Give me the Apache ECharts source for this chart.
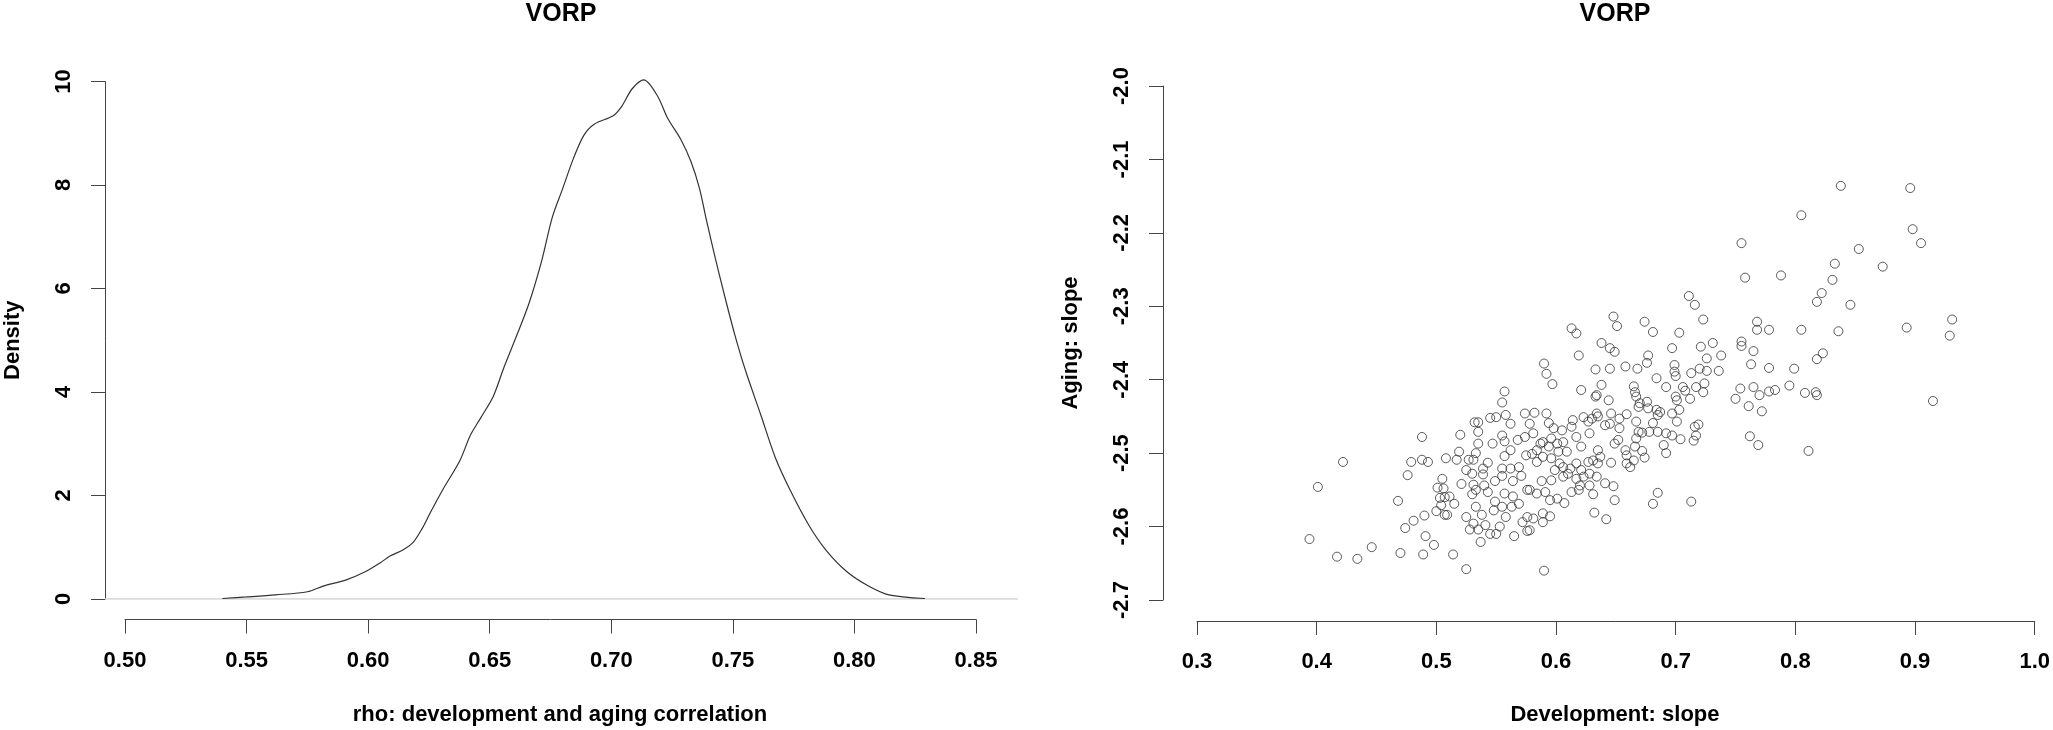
<!DOCTYPE html>
<html>
	<head>
		<meta charset="utf-8" />
		<title>VORP</title>
		<style type="text/css">
			body { margin: 0; background: #fff; }
		</style>
	</head>
	<body>
		<div id="chart" style="width:2053px;height:730px;"></div>
	</body>
</html>
<script src="https://cdn.jsdelivr.net/npm/echarts/dist/echarts.min.js"></script>
<script>
	// density of rho
	var rhoX = [0.540, 0.550, 0.562, 0.575, 0.5815, 0.591, 0.599, 0.605, 0.609, 0.6144,
		0.6186, 0.6222, 0.6256, 0.6308, 0.6377, 0.642, 0.6463, 0.6515, 0.6558, 0.6611,
		0.6662, 0.6714, 0.6757, 0.680, 0.6844, 0.6887, 0.6931, 0.7008, 0.7043, 0.7086,
		0.7134, 0.719, 0.7233, 0.7285, 0.7328, 0.7363, 0.7389, 0.7423, 0.7466, 0.7509,
		0.7553, 0.7614, 0.7674, 0.7734, 0.7812, 0.7882, 0.7968, 0.8054, 0.8141, 0.829];
	var densityY = [0.01, 0.04, 0.08, 0.14, 0.25, 0.37, 0.53, 0.70, 0.83, 0.95,
		1.10, 1.36, 1.67, 2.12, 2.67, 3.16, 3.50, 3.92, 4.47, 5.09,
		5.72, 6.54, 7.37, 7.93, 8.51, 8.96, 9.18, 9.34, 9.52, 9.86,
		10.03, 9.72, 9.28, 8.89, 8.45, 7.93, 7.37, 6.68, 5.86, 5.09,
		4.40, 3.57, 2.74, 2.12, 1.43, 0.95, 0.53, 0.26, 0.08, 0.01];
	// abline(h=0) spans the whole plot region
	var zeroLineX = [0.4918, 0.8672];

	// development slope vs aging slope (right panel)
	var devSlope = [
		0.394, 0.401, 0.422, 0.417, 0.434, 0.446, 0.468, 0.470, 0.476, 0.479,
		0.488, 0.488, 0.493, 0.474, 0.481, 0.490, 0.491, 0.498, 0.489, 0.514,
		0.525, 0.500, 0.505, 0.501, 0.506, 0.503, 0.507, 0.511, 0.504, 0.515,
		0.507, 0.509, 0.508, 0.520, 0.519, 0.517, 0.521, 0.525, 0.528, 0.531,
		0.537, 0.535, 0.532, 0.535, 0.535, 0.535, 0.533, 0.527, 0.531, 0.525,
		0.530, 0.531, 0.530, 0.533, 0.539, 0.543, 0.539, 0.540, 0.543, 0.533,
		0.538, 0.541, 0.545, 0.550, 0.547, 0.545, 0.550, 0.558, 0.555, 0.557,
		0.562, 0.574, 0.555, 0.557, 0.562, 0.568, 0.557, 0.555, 0.549, 0.555,
		0.562, 0.564, 0.569, 0.571, 0.557, 0.564, 0.549, 0.555, 0.563, 0.569,
		0.558, 0.553, 0.565, 0.572, 0.576, 0.576, 0.548, 0.576, 0.575, 0.574,
		0.590, 0.578, 0.581, 0.589, 0.595, 0.589, 0.578, 0.584, 0.591, 0.588,
		0.595, 0.601, 0.607, 0.596, 0.606, 0.610, 0.613, 0.619, 0.620, 0.617,
		0.612, 0.603, 0.596, 0.589, 0.584, 0.580, 0.581, 0.578, 0.582, 0.592,
		0.594, 0.598, 0.605, 0.596, 0.589, 0.594, 0.601, 0.606, 0.602, 0.609,
		0.613, 0.614, 0.617, 0.621, 0.623, 0.628, 0.627, 0.630, 0.635, 0.634,
		0.635, 0.627, 0.631, 0.635, 0.628, 0.634, 0.628, 0.631, 0.641, 0.648,
		0.649, 0.632, 0.642, 0.646, 0.649, 0.652, 0.658, 0.659, 0.662, 0.659,
		0.665, 0.641, 0.645, 0.646, 0.653, 0.659, 0.653, 0.634, 0.633, 0.638,
		0.644, 0.621, 0.633, 0.645, 0.658, 0.668, 0.676, 0.677, 0.619, 0.590,
		0.592, 0.597, 0.613, 0.617, 0.638, 0.645, 0.649, 0.648, 0.651, 0.674,
		0.681, 0.665, 0.666, 0.667, 0.670, 0.669, 0.676, 0.677, 0.684, 0.685,
		0.687, 0.681, 0.667, 0.669, 0.672, 0.678, 0.685, 0.692, 0.697, 0.704,
		0.715, 0.717, 0.716, 0.719, 0.667, 0.666, 0.672, 0.674, 0.690, 0.692,
		0.685, 0.681, 0.713, 0.684, 0.692, 0.699, 0.699, 0.700, 0.697, 0.703,
		0.706, 0.708, 0.700, 0.701, 0.697, 0.701, 0.703, 0.712, 0.713, 0.711,
		0.716, 0.723, 0.721, 0.726, 0.720, 0.726, 0.724, 0.717, 0.723, 0.731,
		0.738, 0.736, 0.750, 0.754, 0.755, 0.755, 0.758, 0.587, 0.584, 0.599,
		0.606, 0.617, 0.621, 0.623, 0.637,
		0.838, 0.896, 0.805, 0.898, 0.905, 0.755, 0.853, 0.833, 0.873, 0.788,
		0.831, 0.822, 0.818, 0.846, 0.768, 0.768, 0.778, 0.805, 0.836, 0.893,
		0.931, 0.929, 0.765, 0.763, 0.778, 0.799, 0.823, 0.818, 0.765, 0.770,
		0.778, 0.783, 0.795, 0.808, 0.817, 0.818, 0.761, 0.772, 0.915, 0.762,
		0.769, 0.811];
	var agingSlope = [
		-2.617, -2.546, -2.512, -2.641, -2.644, -2.628, -2.565, -2.636, -2.530, -2.512,
		-2.478, -2.509, -2.512, -2.602, -2.592, -2.585, -2.613, -2.625, -2.638, -2.638,
		-2.658, -2.579, -2.535, -2.547, -2.548, -2.561, -2.560, -2.559, -2.571, -2.569,
		-2.584, -2.584, -2.507, -2.475, -2.498, -2.509, -2.542, -2.587, -2.604, -2.596,
		-2.621, -2.604, -2.458, -2.458, -2.471, -2.487, -2.500, -2.509, -2.509, -2.523,
		-2.528, -2.543, -2.556, -2.550, -2.521, -2.513, -2.529, -2.544, -2.553, -2.573,
		-2.584, -2.598, -2.610, -2.610, -2.487, -2.452, -2.451, -2.448, -2.431, -2.416,
		-2.460, -2.446, -2.476, -2.484, -2.496, -2.482, -2.504, -2.521, -2.538, -2.531,
		-2.521, -2.538, -2.519, -2.531, -2.555, -2.559, -2.566, -2.573, -2.573, -2.569,
		-2.587, -2.600, -2.613, -2.594, -2.606, -2.587, -2.578, -2.550, -2.503, -2.478,
		-2.660, -2.605, -2.589, -2.594, -2.586, -2.582, -2.550, -2.555, -2.553, -2.538,
		-2.564, -2.562, -2.568, -2.537, -2.532, -2.528, -2.553, -2.550, -2.544, -2.535,
		-2.521, -2.514, -2.507, -2.505, -2.512, -2.501, -2.473, -2.460, -2.445, -2.446,
		-2.459, -2.466, -2.469, -2.480, -2.485, -2.491, -2.487, -2.485, -2.498, -2.498,
		-2.464, -2.455, -2.478, -2.491, -2.451, -2.473, -2.457, -2.453, -2.450, -2.446,
		-2.496, -2.512, -2.510, -2.514, -2.528, -2.532, -2.544, -2.556, -2.541, -2.545,
		-2.564, -2.581, -2.590, -2.513, -2.487, -2.482, -2.496, -2.503, -2.519, -2.514,
		-2.510, -2.462, -2.460, -2.446, -2.453, -2.447, -2.466, -2.421, -2.423, -2.407,
		-2.428, -2.414, -2.386, -2.385, -2.382, -2.385, -2.377, -2.367, -2.367, -2.378,
		-2.392, -2.406, -2.330, -2.337, -2.350, -2.357, -2.362, -2.314, -2.327, -2.321,
		-2.335, -2.409, -2.417, -2.423, -2.432, -2.437, -2.430, -2.439, -2.441, -2.448,
		-2.444, -2.459, -2.457, -2.471, -2.472, -2.471, -2.471, -2.473, -2.476, -2.481,
		-2.483, -2.476, -2.464, -2.461, -2.480, -2.491, -2.497, -2.506, -2.489, -2.500,
		-2.554, -2.569, -2.566, -2.398, -2.410, -2.380, -2.389, -2.395, -2.357, -2.336,
		-2.410, -2.415, -2.423, -2.428, -2.446, -2.457, -2.441, -2.426, -2.391, -2.286,
		-2.298, -2.318, -2.355, -2.371, -2.385, -2.388, -2.405, -2.410, -2.417, -2.350,
		-2.367, -2.388, -2.426, -2.412, -2.348, -2.354, -2.261, -2.487, -2.496, -2.523,
		-2.519, -2.514, -2.523, -2.532, -2.505,
		-2.136, -2.139, -2.176, -2.195, -2.214, -2.214, -2.222, -2.242, -2.246, -2.258,
		-2.264, -2.282, -2.294, -2.298, -2.321, -2.332, -2.332, -2.332, -2.334, -2.329,
		-2.318, -2.340, -2.361, -2.379, -2.384, -2.385, -2.364, -2.372, -2.410, -2.421,
		-2.416, -2.414, -2.408, -2.418, -2.417, -2.421, -2.436, -2.443, -2.429, -2.477,
		-2.489, -2.497];

	var densityData = rhoX.map(function (x, i) { return [x, densityY[i]]; });
	var zeroData = zeroLineX.map(function (x) { return [x, 0]; });
	var scatterData = devSlope.map(function (x, i) { return [x, agingSlope[i]]; });

	var fontFam = "'Liberation Sans', Arial, sans-serif";
	var axisColor = '#444';
	var labelStyle = { fontSize: 22, fontWeight: 'bold', color: '#000', fontFamily: fontFam };

	function frameAxis(extra) {
		var ax = {
			type: 'value',
			axisLine: { show: true, onZero: false, lineStyle: { color: axisColor, width: 1 } },
			axisTick: { show: true, length: 14, lineStyle: { color: axisColor, width: 1 } },
			axisLabel: { margin: 30, fontSize: 22, fontWeight: 'bold', color: '#000', fontFamily: fontFam },
			splitLine: { show: false }
		};
		for (var k in extra) {
			if (k === 'axisLabel') {
				for (var j in extra.axisLabel) ax.axisLabel[j] = extra.axisLabel[j];
			} else {
				ax[k] = extra[k];
			}
		}
		return ax;
	}

	var myChart = echarts.init(document.getElementById('chart'));

	var options = {
		animation: false,
		backgroundColor: '#fff',
		title: [
			{ text: 'VORP', left: 561, top: 2, textAlign: 'center', padding: 0,
				textStyle: { fontSize: 25, fontWeight: 'bold', color: '#000', fontFamily: fontFam, lineHeight: 25 } },
			{ text: 'VORP', left: 1615, top: 2, textAlign: 'center', padding: 0,
				textStyle: { fontSize: 25, fontWeight: 'bold', color: '#000', fontFamily: fontFam, lineHeight: 25 } },
			{ text: 'rho: development and aging correlation', left: 560, top: 704, textAlign: 'center', padding: 0,
				textStyle: { fontSize: 22, fontWeight: 'bold', color: '#000', fontFamily: fontFam, lineHeight: 22 } },
			{ text: 'Development: slope', left: 1615, top: 704, textAlign: 'center', padding: 0,
				textStyle: { fontSize: 22, fontWeight: 'bold', color: '#000', fontFamily: fontFam, lineHeight: 22 } }
		],
		grid: [
			// left plot region (for the zero line)
			{ left: 105, top: 81.5, width: 913, height: 517.5 },
			// left axes frame
			{ left: 125, top: 81.5, width: 851, height: 517.5 },
			// right axes frame
			{ left: 1197, top: 86, width: 838, height: 514 }
		],
		xAxis: [
			{ gridIndex: 0, type: 'value', min: zeroLineX[0], max: zeroLineX[1], show: false },
			frameAxis({ gridIndex: 1, min: 0.5, max: 0.85, interval: 0.05, offset: 20.5,
				axisLabel: { formatter: function (v) { return v.toFixed(2); } } }),
			frameAxis({ gridIndex: 2, min: 0.3, max: 1.0, interval: 0.1, offset: 21,
				axisLabel: { formatter: function (v) { return v.toFixed(1); } } })
		],
		yAxis: [
			{ gridIndex: 0, type: 'value', min: 0, max: 10, show: false },
			frameAxis({ gridIndex: 1, min: 0, max: 10, interval: 2, offset: 20,
				name: 'Density', nameLocation: 'middle', nameGap: 81, nameRotate: 90,
				nameTextStyle: labelStyle,
				axisLabel: { rotate: 90 } }),
			frameAxis({ gridIndex: 2, min: -2.7, max: -2.0, interval: 0.1, offset: 34,
				name: 'Aging: slope', nameLocation: 'middle', nameGap: 81, nameRotate: 90,
				nameTextStyle: labelStyle,
				axisLabel: { rotate: 90, formatter: function (v) { return v.toFixed(1); } } })
		],
		series: [
			{
				name: 'zero',
				type: 'line',
				xAxisIndex: 0,
				yAxisIndex: 0,
				data: zeroData,
				symbol: 'none',
				silent: true,
				lineStyle: { color: '#d0d0d0', width: 1.5 }
			},
			{
				name: 'density',
				type: 'line',
				xAxisIndex: 1,
				yAxisIndex: 1,
				data: densityData,
				symbol: 'none',
				smooth: 0.3,
				clip: false,
				lineStyle: { color: '#333', width: 1.2 }
			},
			{
				name: 'slopes',
				type: 'scatter',
				xAxisIndex: 2,
				yAxisIndex: 2,
				data: scatterData,
				symbol: 'circle',
				symbolSize: 9,
				itemStyle: { color: 'rgba(0,0,0,0)', borderColor: '#333', borderWidth: 1 }
			}
		]
	};

	myChart.setOption(options);
</script>
